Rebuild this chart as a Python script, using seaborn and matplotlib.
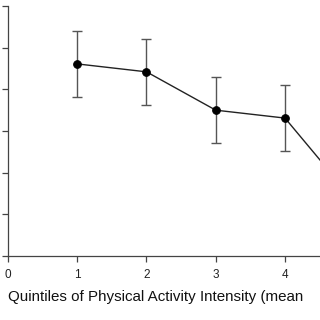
import matplotlib
matplotlib.use("Agg")
import matplotlib.pyplot as plt
import seaborn as sns
import pandas as pd

quintiles = [1, 2, 3, 4, 5]
means = [4.61, 4.42, 3.50, 3.31, 1.32]
errors = [0.80, 0.80, 0.79, 0.80, 0.80]
xticks = [0, 1, 2, 3, 4]
yticks = [0, 1, 2, 3, 4, 5, 6]
xlabel = "Quintiles of Physical Activity Intensity (mean"

df = pd.DataFrame({"quintile": quintiles, "mean": means, "err": errors})

sns.set_theme(style="ticks")
plt.rcParams["font.family"] = ["Liberation Sans", "DejaVu Sans"]

fig = plt.figure(figsize=(3.2, 3.2), dpi=100)
px = 320.0
ax = fig.add_axes([8 / px, 64 / px, (5.6 * 69.25) / px, 250 / px])

ax.errorbar(df["quintile"], df["mean"], yerr=df["err"], fmt="none",
            ecolor="#555555", elinewidth=1.0, capsize=3.5, capthick=1.0, zorder=2)
sns.lineplot(data=df, x="quintile", y="mean", ax=ax, color="#222222",
             linewidth=1.0, marker="o", markersize=5.5, markerfacecolor="black",
             markeredgecolor="black", zorder=3)

ax.set_xlim(0, 5.6)
ax.set_ylim(0, 6)
ax.set_xticks(xticks)
ax.set_yticks(yticks)
ax.set_yticklabels([])
ax.tick_params(axis="both", direction="out", length=4.5, width=0.9,
               color="#444444", labelcolor="#222222")
ax.tick_params(axis="x", labelsize=8.5, pad=4.5)
sns.despine(ax=ax)
for s in ["left", "bottom"]:
    ax.spines[s].set_color("#444444")
    ax.spines[s].set_linewidth(0.9)

ax.set_ylabel("")
ax.set_xlabel(xlabel, loc="left", fontsize=10.9, color="#111111", labelpad=7)

fig.savefig("out.png", dpi=100)
